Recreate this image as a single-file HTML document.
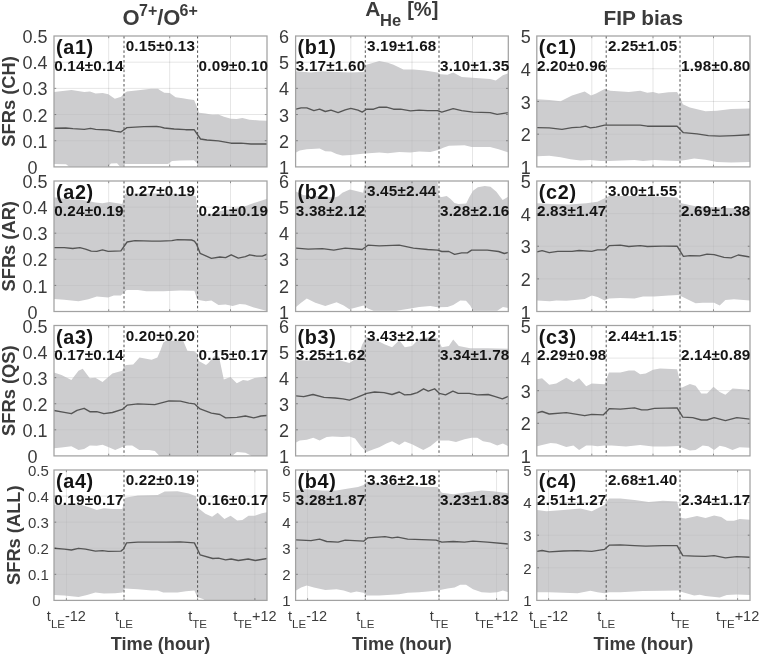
<!DOCTYPE html>
<html><head><meta charset="utf-8"><title>SFR figure</title>
<style>html,body{margin:0;padding:0;background:#fff;}svg{display:block;}</style></head><body>
<svg width="760" height="655" viewBox="0 0 760 655" font-family="Liberation Sans, Arial, Helvetica, sans-serif">
<rect width="760" height="655" fill="#fff"/>
<defs>
<clipPath id="k00"><rect x="54.00" y="36.00" width="213.00" height="130.90"/></clipPath>
<clipPath id="k01"><rect x="295.60" y="36.00" width="212.70" height="130.90"/></clipPath>
<clipPath id="k02"><rect x="536.80" y="36.00" width="213.20" height="130.90"/></clipPath>
<clipPath id="k10"><rect x="54.00" y="181.00" width="213.00" height="130.50"/></clipPath>
<clipPath id="k11"><rect x="295.60" y="181.00" width="212.70" height="130.50"/></clipPath>
<clipPath id="k12"><rect x="536.80" y="181.00" width="213.20" height="130.50"/></clipPath>
<clipPath id="k20"><rect x="54.00" y="325.50" width="213.00" height="130.40"/></clipPath>
<clipPath id="k21"><rect x="295.60" y="325.50" width="212.70" height="130.40"/></clipPath>
<clipPath id="k22"><rect x="536.80" y="325.50" width="213.20" height="130.40"/></clipPath>
<clipPath id="k30"><rect x="54.00" y="470.00" width="213.00" height="130.40"/></clipPath>
<clipPath id="k31"><rect x="295.60" y="470.00" width="212.70" height="130.40"/></clipPath>
<clipPath id="k32"><rect x="536.80" y="470.00" width="213.20" height="130.40"/></clipPath>
</defs>
<g clip-path="url(#k00)">
<path d="M108.70 36.00V166.90M169.70 36.00V166.90M230.50 36.00V166.90M54.00 140.72H267.00M54.00 114.54H267.00M54.00 88.36H267.00M54.00 62.18H267.00" stroke="#262626" stroke-opacity="0.08" stroke-width="1" fill="none"/>
<polygon points="53.0,92.1 71.5,90.0 84.3,92.1 90.0,91.4 95.6,93.5 102.7,93.1 108.4,94.2 114.8,98.8 121.2,96.8 124.0,93.5 126.9,91.6 138.3,90.2 151.0,88.8 158.0,88.8 160.0,90.2 164.3,92.8 169.7,93.1 175.6,97.3 182.7,98.2 188.4,99.2 194.1,99.9 197.0,107.0 199.0,112.7 205.5,113.4 212.6,114.8 218.3,114.5 224.0,116.7 231.0,118.7 236.7,119.1 242.4,118.1 249.5,119.8 259.5,120.5 268.0,120.8 268.0,168.0 198.0,168.0 196.8,163.0 194.0,160.3 180.0,160.5 172.0,161.0 168.0,164.0 125.0,164.0 124.0,166.5 120.0,166.5 117.0,163.2 111.0,163.5 108.0,166.5 69.0,166.5 66.0,164.3 53.0,164.0" fill="#cdcdcf"/>
<path d="M108.70 36.00V166.90M169.70 36.00V166.90M230.50 36.00V166.90M54.00 140.72H267.00M54.00 114.54H267.00M54.00 88.36H267.00M54.00 62.18H267.00" stroke="#262626" stroke-opacity="0.035" stroke-width="1" fill="none"/>
<polyline points="53.0,128.3 65.8,128.0 72.9,128.7 84.3,129.4 90.6,128.3 95.6,129.4 108.4,130.0 115.5,131.4 120.9,132.0 124.0,129.7 126.9,127.6 143.9,126.6 156.7,126.5 160.0,126.9 164.3,128.0 174.2,129.0 185.6,129.7 194.1,129.7 200.5,139.0 206.9,140.0 218.3,140.8 231.0,143.2 241.0,143.2 250.9,144.0 268.0,144.0" fill="none" stroke="#555555" stroke-width="1.35" stroke-linejoin="round"/>
<line x1="124.00" y1="36.00" x2="124.00" y2="166.90" stroke="#505050" stroke-width="1" stroke-dasharray="2.5 2.3"/>
<line x1="197.60" y1="36.00" x2="197.60" y2="166.90" stroke="#505050" stroke-width="1" stroke-dasharray="2.5 2.3"/>
</g>
<path d="M108.70 36.00v2.2M108.70 166.90v-2.2M169.70 36.00v2.2M169.70 166.90v-2.2M230.50 36.00v2.2M230.50 166.90v-2.2M54.00 140.72h2.2M267.00 140.72h-2.2M54.00 114.54h2.2M267.00 114.54h-2.2M54.00 88.36h2.2M267.00 88.36h-2.2M54.00 62.18h2.2M267.00 62.18h-2.2" stroke="#262626" stroke-width="0.8" fill="none" opacity="0.6"/>
<rect x="54.00" y="36.00" width="213.00" height="130.90" fill="none" stroke="#a2a2a2" stroke-width="1.25"/>
<text x="37.50" y="174.00" font-size="18" fill="#3b3b3b" text-anchor="end">0</text>
<text x="47.50" y="147.82" font-size="18" fill="#3b3b3b" text-anchor="end">0.1</text>
<text x="47.50" y="121.64" font-size="18" fill="#3b3b3b" text-anchor="end">0.2</text>
<text x="47.50" y="95.46" font-size="18" fill="#3b3b3b" text-anchor="end">0.3</text>
<text x="47.50" y="69.28" font-size="18" fill="#3b3b3b" text-anchor="end">0.4</text>
<text x="47.50" y="43.10" font-size="18" fill="#3b3b3b" text-anchor="end">0.5</text>
<text x="55.90" y="54.10" font-size="19.8" letter-spacing="0.7" font-weight="bold" fill="#141414">(a1)</text>
<text x="54.20" y="70.60" font-size="15.25" letter-spacing="0.2" font-weight="bold" fill="#141414">0.14±0.14</text>
<text x="125.70" y="51.40" font-size="15.25" letter-spacing="0.2" font-weight="bold" fill="#141414">0.15±0.13</text>
<text x="198.60" y="70.60" font-size="15.25" letter-spacing="0.2" font-weight="bold" fill="#141414">0.09±0.10</text>
<g clip-path="url(#k01)">
<path d="M350.80 36.00V166.90M412.00 36.00V166.90M472.50 36.00V166.90M295.60 140.72H508.30M295.60 114.54H508.30M295.60 88.36H508.30M295.60 62.18H508.30" stroke="#262626" stroke-opacity="0.08" stroke-width="1" fill="none"/>
<polygon points="296.0,71.3 311.0,72.5 322.4,71.3 336.6,71.9 350.8,72.5 363.6,71.9 365.5,66.0 366.5,64.8 379.3,61.1 387.8,62.8 393.5,64.8 403.4,69.6 413.4,69.6 424.7,70.5 437.5,72.5 440.4,74.2 447.5,74.7 453.2,72.5 461.7,77.0 475.9,78.1 490.1,79.0 495.8,80.4 502.9,75.3 508.5,73.3 508.5,152.6 498.6,149.2 490.1,146.9 471.6,146.9 464.5,145.2 448.9,145.8 443.2,147.8 439.0,149.8 430.4,152.1 419.1,151.5 410.5,152.6 399.2,152.1 387.8,153.2 379.3,152.6 365.1,153.5 350.8,154.9 342.3,155.5 336.6,154.0 331.0,151.5 325.3,151.2 319.6,148.6 306.8,149.2 299.7,150.6 296.0,152.6" fill="#cdcdcf"/>
<path d="M350.80 36.00V166.90M412.00 36.00V166.90M472.50 36.00V166.90M295.60 140.72H508.30M295.60 114.54H508.30M295.60 88.36H508.30M295.60 62.18H508.30" stroke="#262626" stroke-opacity="0.035" stroke-width="1" fill="none"/>
<polyline points="296.0,109.2 301.1,107.8 306.8,107.8 313.9,110.6 319.6,109.2 325.3,111.5 331.0,110.1 338.1,112.6 345.2,109.8 350.8,108.4 358.0,110.1 362.2,112.1 366.5,109.2 373.6,109.2 379.3,107.2 386.4,107.2 393.5,109.2 400.6,109.2 410.5,110.9 419.1,110.1 427.6,110.6 437.5,110.6 441.8,112.1 453.2,108.6 461.7,110.6 473.0,112.1 490.1,112.6 497.2,114.3 508.5,112.6" fill="none" stroke="#555555" stroke-width="1.35" stroke-linejoin="round"/>
<line x1="365.30" y1="36.00" x2="365.30" y2="166.90" stroke="#505050" stroke-width="1" stroke-dasharray="2.5 2.3"/>
<line x1="439.00" y1="36.00" x2="439.00" y2="166.90" stroke="#505050" stroke-width="1" stroke-dasharray="2.5 2.3"/>
</g>
<path d="M350.80 36.00v2.2M350.80 166.90v-2.2M412.00 36.00v2.2M412.00 166.90v-2.2M472.50 36.00v2.2M472.50 166.90v-2.2M295.60 140.72h2.2M508.30 140.72h-2.2M295.60 114.54h2.2M508.30 114.54h-2.2M295.60 88.36h2.2M508.30 88.36h-2.2M295.60 62.18h2.2M508.30 62.18h-2.2" stroke="#262626" stroke-width="0.8" fill="none" opacity="0.6"/>
<rect x="295.60" y="36.00" width="212.70" height="130.90" fill="none" stroke="#a2a2a2" stroke-width="1.25"/>
<text x="289.00" y="174.00" font-size="18" fill="#3b3b3b" text-anchor="end">1</text>
<text x="289.00" y="147.82" font-size="18" fill="#3b3b3b" text-anchor="end">2</text>
<text x="289.00" y="121.64" font-size="18" fill="#3b3b3b" text-anchor="end">3</text>
<text x="289.00" y="95.46" font-size="18" fill="#3b3b3b" text-anchor="end">4</text>
<text x="289.00" y="69.28" font-size="18" fill="#3b3b3b" text-anchor="end">5</text>
<text x="289.00" y="43.10" font-size="18" fill="#3b3b3b" text-anchor="end">6</text>
<text x="297.50" y="54.10" font-size="19.8" letter-spacing="0.7" font-weight="bold" fill="#141414">(b1)</text>
<text x="295.80" y="70.60" font-size="15.25" letter-spacing="0.2" font-weight="bold" fill="#141414">3.17±1.60</text>
<text x="367.00" y="51.40" font-size="15.25" letter-spacing="0.2" font-weight="bold" fill="#141414">3.19±1.68</text>
<text x="440.00" y="70.60" font-size="15.25" letter-spacing="0.2" font-weight="bold" fill="#141414">3.10±1.35</text>
<g clip-path="url(#k02)">
<path d="M591.80 36.00V166.90M653.00 36.00V166.90M713.50 36.00V166.90M536.80 134.18H750.00M536.80 101.45H750.00M536.80 68.72H750.00" stroke="#262626" stroke-opacity="0.08" stroke-width="1" fill="none"/>
<polygon points="537.0,99.3 549.2,99.9 560.6,101.3 572.0,95.6 584.7,91.4 591.0,95.6 596.1,93.6 604.6,89.1 610.3,90.8 628.8,91.9 640.2,90.8 647.3,92.8 653.0,91.9 658.6,93.6 668.6,92.2 677.1,91.9 680.0,97.1 682.8,104.2 689.9,107.6 705.5,111.3 716.9,110.7 731.1,109.0 750.0,108.4 750.0,162.0 731.1,162.6 716.9,162.0 705.5,159.7 694.2,158.6 685.6,160.0 678.5,161.1 662.9,160.6 654.4,160.0 643.0,161.1 634.5,160.0 608.9,161.1 600.4,161.1 590.4,160.0 580.5,160.6 570.5,159.2 560.6,157.2 549.2,155.7 537.0,156.3" fill="#cdcdcf"/>
<path d="M591.80 36.00V166.90M653.00 36.00V166.90M713.50 36.00V166.90M536.80 134.18H750.00M536.80 101.45H750.00M536.80 68.72H750.00" stroke="#262626" stroke-opacity="0.035" stroke-width="1" fill="none"/>
<polyline points="537.0,127.6 549.2,127.9 562.0,129.3 572.0,127.6 580.5,127.1 585.6,126.2 590.4,127.9 596.1,127.1 604.6,125.1 620.3,125.1 640.2,125.1 647.3,126.2 662.9,126.2 677.1,126.2 683.4,132.7 697.0,133.9 708.4,135.6 719.7,136.1 734.0,135.6 750.0,134.7" fill="none" stroke="#555555" stroke-width="1.35" stroke-linejoin="round"/>
<line x1="606.20" y1="36.00" x2="606.20" y2="166.90" stroke="#505050" stroke-width="1" stroke-dasharray="2.5 2.3"/>
<line x1="680.00" y1="36.00" x2="680.00" y2="166.90" stroke="#505050" stroke-width="1" stroke-dasharray="2.5 2.3"/>
</g>
<path d="M591.80 36.00v2.2M591.80 166.90v-2.2M653.00 36.00v2.2M653.00 166.90v-2.2M713.50 36.00v2.2M713.50 166.90v-2.2M536.80 134.18h2.2M750.00 134.18h-2.2M536.80 101.45h2.2M750.00 101.45h-2.2M536.80 68.72h2.2M750.00 68.72h-2.2" stroke="#262626" stroke-width="0.8" fill="none" opacity="0.6"/>
<rect x="536.80" y="36.00" width="213.20" height="130.90" fill="none" stroke="#a2a2a2" stroke-width="1.25"/>
<text x="530.70" y="174.00" font-size="18" fill="#3b3b3b" text-anchor="end">1</text>
<text x="530.70" y="141.28" font-size="18" fill="#3b3b3b" text-anchor="end">2</text>
<text x="530.70" y="108.55" font-size="18" fill="#3b3b3b" text-anchor="end">3</text>
<text x="530.70" y="75.82" font-size="18" fill="#3b3b3b" text-anchor="end">4</text>
<text x="530.70" y="43.10" font-size="18" fill="#3b3b3b" text-anchor="end">5</text>
<text x="538.70" y="54.10" font-size="19.8" letter-spacing="0.7" font-weight="bold" fill="#141414">(c1)</text>
<text x="537.00" y="70.60" font-size="15.25" letter-spacing="0.2" font-weight="bold" fill="#141414">2.20±0.96</text>
<text x="607.90" y="51.40" font-size="15.25" letter-spacing="0.2" font-weight="bold" fill="#141414">2.25±1.05</text>
<text x="681.00" y="70.60" font-size="15.25" letter-spacing="0.2" font-weight="bold" fill="#141414">1.98±0.80</text>
<text transform="translate(14.80 101.45) rotate(-90)" font-size="18.3" font-weight="bold" fill="#3b3b3b" text-anchor="middle">SFRs (CH)</text>
<g clip-path="url(#k10)">
<path d="M108.70 181.00V311.50M169.70 181.00V311.50M230.50 181.00V311.50M54.00 285.40H267.00M54.00 259.30H267.00M54.00 233.20H267.00M54.00 207.10H267.00" stroke="#262626" stroke-opacity="0.08" stroke-width="1" fill="none"/>
<polygon points="53.0,197.0 67.1,199.2 81.3,199.8 95.4,202.6 102.5,203.2 109.6,202.1 122.3,204.0 124.2,197.0 125.1,194.1 137.9,193.6 166.2,193.6 190.0,194.5 196.0,196.5 197.6,214.0 210.5,214.5 220.8,210.8 233.0,208.8 246.5,205.7 251.0,204.0 259.5,201.2 265.7,199.2 268.0,198.5 268.0,311.5 265.2,310.6 253.8,307.4 245.4,304.6 239.7,304.0 232.6,306.0 225.6,304.6 218.5,304.9 211.4,300.4 205.8,301.2 197.3,299.8 194.4,290.7 180.3,290.5 163.3,291.3 146.4,291.3 137.9,289.9 126.6,289.9 123.7,292.7 120.9,295.6 113.8,295.6 108.2,297.5 96.8,296.4 88.4,299.2 78.5,301.2 64.3,299.8 53.0,299.0" fill="#cdcdcf"/>
<path d="M108.70 181.00V311.50M169.70 181.00V311.50M230.50 181.00V311.50M54.00 285.40H267.00M54.00 259.30H267.00M54.00 233.20H267.00M54.00 207.10H267.00" stroke="#262626" stroke-opacity="0.035" stroke-width="1" fill="none"/>
<polyline points="53.0,247.6 64.3,247.6 72.8,248.5 79.9,247.6 85.5,249.1 91.2,251.1 96.8,251.3 102.5,249.9 108.2,251.3 120.9,250.8 127.1,242.0 135.0,240.6 152.0,241.1 160.5,241.1 171.8,240.6 177.5,239.7 191.6,240.0 194.4,241.1 196.5,244.0 200.1,253.3 211.4,258.4 219.9,257.0 225.6,257.6 231.2,254.8 238.3,258.1 245.4,256.7 249.6,254.8 256.7,256.1 262.3,256.1 268.0,253.9" fill="none" stroke="#555555" stroke-width="1.35" stroke-linejoin="round"/>
<line x1="124.00" y1="181.00" x2="124.00" y2="311.50" stroke="#505050" stroke-width="1" stroke-dasharray="2.5 2.3"/>
<line x1="197.60" y1="181.00" x2="197.60" y2="311.50" stroke="#505050" stroke-width="1" stroke-dasharray="2.5 2.3"/>
</g>
<path d="M108.70 181.00v2.2M108.70 311.50v-2.2M169.70 181.00v2.2M169.70 311.50v-2.2M230.50 181.00v2.2M230.50 311.50v-2.2M54.00 285.40h2.2M267.00 285.40h-2.2M54.00 259.30h2.2M267.00 259.30h-2.2M54.00 233.20h2.2M267.00 233.20h-2.2M54.00 207.10h2.2M267.00 207.10h-2.2" stroke="#262626" stroke-width="0.8" fill="none" opacity="0.6"/>
<rect x="54.00" y="181.00" width="213.00" height="130.50" fill="none" stroke="#a2a2a2" stroke-width="1.25"/>
<text x="37.50" y="318.60" font-size="18" fill="#3b3b3b" text-anchor="end">0</text>
<text x="47.50" y="292.50" font-size="18" fill="#3b3b3b" text-anchor="end">0.1</text>
<text x="47.50" y="266.40" font-size="18" fill="#3b3b3b" text-anchor="end">0.2</text>
<text x="47.50" y="240.30" font-size="18" fill="#3b3b3b" text-anchor="end">0.3</text>
<text x="47.50" y="214.20" font-size="18" fill="#3b3b3b" text-anchor="end">0.4</text>
<text x="47.50" y="188.10" font-size="18" fill="#3b3b3b" text-anchor="end">0.5</text>
<text x="55.90" y="199.10" font-size="19.8" letter-spacing="0.7" font-weight="bold" fill="#141414">(a2)</text>
<text x="54.20" y="215.60" font-size="15.25" letter-spacing="0.2" font-weight="bold" fill="#141414">0.24±0.19</text>
<text x="125.70" y="196.40" font-size="15.25" letter-spacing="0.2" font-weight="bold" fill="#141414">0.27±0.19</text>
<text x="198.60" y="215.60" font-size="15.25" letter-spacing="0.2" font-weight="bold" fill="#141414">0.21±0.19</text>
<g clip-path="url(#k11)">
<path d="M350.80 181.00V311.50M412.00 181.00V311.50M472.50 181.00V311.50M295.60 285.40H508.30M295.60 259.30H508.30M295.60 233.20H508.30M295.60 207.10H508.30" stroke="#262626" stroke-opacity="0.08" stroke-width="1" fill="none"/>
<polygon points="296.0,191.5 303.0,195.0 311.0,196.0 322.0,196.5 334.5,197.5 338.4,196.3 342.4,192.8 349.8,189.4 354.2,190.4 363.1,192.8 365.4,181.0 437.5,181.0 438.9,196.6 441.8,197.0 446.7,196.1 450.6,199.0 454.5,202.9 458.4,204.0 466.2,203.4 469.1,197.5 473.0,190.7 477.9,187.3 484.7,186.0 490.5,186.8 496.4,191.7 500.3,197.0 502.7,200.0 506.1,198.0 508.5,196.6 508.5,307.9 502.9,307.0 497.2,310.7 473.0,310.7 470.2,305.6 466.0,300.7 460.3,300.5 453.2,305.0 447.5,307.0 437.5,307.3 430.4,306.1 419.1,307.0 410.5,308.4 396.3,310.7 373.6,310.7 367.9,308.4 363.6,305.6 349.4,309.3 343.7,305.6 336.6,302.2 325.3,306.1 315.3,302.7 306.8,298.5 301.1,302.7 296.0,307.0" fill="#cdcdcf"/>
<path d="M350.80 181.00V311.50M412.00 181.00V311.50M472.50 181.00V311.50M295.60 285.40H508.30M295.60 259.30H508.30M295.60 233.20H508.30M295.60 207.10H508.30" stroke="#262626" stroke-opacity="0.035" stroke-width="1" fill="none"/>
<polyline points="296.0,248.1 308.2,249.2 322.4,248.6 333.8,250.1 345.2,248.1 362.2,249.5 367.9,245.2 379.3,245.8 399.2,245.2 413.4,248.1 427.6,249.5 437.5,250.1 441.8,251.5 448.9,251.5 454.6,254.3 461.7,252.9 467.4,252.9 471.6,250.1 487.3,250.1 498.6,251.5 504.3,253.5 508.5,252.3" fill="none" stroke="#555555" stroke-width="1.35" stroke-linejoin="round"/>
<line x1="365.30" y1="181.00" x2="365.30" y2="311.50" stroke="#505050" stroke-width="1" stroke-dasharray="2.5 2.3"/>
<line x1="439.00" y1="181.00" x2="439.00" y2="311.50" stroke="#505050" stroke-width="1" stroke-dasharray="2.5 2.3"/>
</g>
<path d="M350.80 181.00v2.2M350.80 311.50v-2.2M412.00 181.00v2.2M412.00 311.50v-2.2M472.50 181.00v2.2M472.50 311.50v-2.2M295.60 285.40h2.2M508.30 285.40h-2.2M295.60 259.30h2.2M508.30 259.30h-2.2M295.60 233.20h2.2M508.30 233.20h-2.2M295.60 207.10h2.2M508.30 207.10h-2.2" stroke="#262626" stroke-width="0.8" fill="none" opacity="0.6"/>
<rect x="295.60" y="181.00" width="212.70" height="130.50" fill="none" stroke="#a2a2a2" stroke-width="1.25"/>
<text x="289.00" y="318.60" font-size="18" fill="#3b3b3b" text-anchor="end">1</text>
<text x="289.00" y="292.50" font-size="18" fill="#3b3b3b" text-anchor="end">2</text>
<text x="289.00" y="266.40" font-size="18" fill="#3b3b3b" text-anchor="end">3</text>
<text x="289.00" y="240.30" font-size="18" fill="#3b3b3b" text-anchor="end">4</text>
<text x="289.00" y="214.20" font-size="18" fill="#3b3b3b" text-anchor="end">5</text>
<text x="289.00" y="188.10" font-size="18" fill="#3b3b3b" text-anchor="end">6</text>
<text x="297.50" y="199.10" font-size="19.8" letter-spacing="0.7" font-weight="bold" fill="#141414">(b2)</text>
<text x="295.80" y="215.60" font-size="15.25" letter-spacing="0.2" font-weight="bold" fill="#141414">3.38±2.12</text>
<text x="367.00" y="196.40" font-size="15.25" letter-spacing="0.2" font-weight="bold" fill="#141414">3.45±2.44</text>
<text x="440.00" y="215.60" font-size="15.25" letter-spacing="0.2" font-weight="bold" fill="#141414">3.28±2.16</text>
<g clip-path="url(#k12)">
<path d="M591.80 181.00V311.50M653.00 181.00V311.50M713.50 181.00V311.50M536.80 278.88H750.00M536.80 246.25H750.00M536.80 213.62H750.00" stroke="#262626" stroke-opacity="0.08" stroke-width="1" fill="none"/>
<polygon points="537.0,203.2 552.0,204.0 569.1,204.6 586.2,203.2 597.5,201.7 604.6,198.3 608.9,196.1 648.7,196.1 677.1,197.5 681.4,203.2 694.2,206.0 716.9,207.4 750.0,208.8 750.0,300.5 734.0,299.3 725.4,299.9 719.7,305.6 714.1,302.7 702.7,302.7 695.6,303.3 689.9,300.5 682.8,297.1 678.5,295.1 668.6,295.6 654.4,296.5 643.0,296.5 634.5,298.5 620.3,297.9 608.9,298.5 604.6,300.5 597.5,297.1 591.8,295.6 584.7,299.0 574.8,299.9 566.3,300.7 556.3,300.5 549.8,301.3 537.0,300.5" fill="#cdcdcf"/>
<path d="M591.80 181.00V311.50M653.00 181.00V311.50M713.50 181.00V311.50M536.80 278.88H750.00M536.80 246.25H750.00M536.80 213.62H750.00" stroke="#262626" stroke-opacity="0.035" stroke-width="1" fill="none"/>
<polyline points="537.0,251.9 542.1,250.7 549.2,252.7 557.7,251.3 572.0,251.3 579.1,250.5 591.8,251.3 597.5,249.9 604.6,249.9 609.5,245.6 620.3,245.1 628.8,246.5 640.2,245.6 647.3,246.5 662.9,246.2 677.1,246.2 683.4,256.4 689.9,255.6 699.8,255.9 707.0,254.2 714.1,254.7 724.0,257.3 731.1,257.9 738.2,255.0 750.0,257.0" fill="none" stroke="#555555" stroke-width="1.35" stroke-linejoin="round"/>
<line x1="606.20" y1="181.00" x2="606.20" y2="311.50" stroke="#505050" stroke-width="1" stroke-dasharray="2.5 2.3"/>
<line x1="680.00" y1="181.00" x2="680.00" y2="311.50" stroke="#505050" stroke-width="1" stroke-dasharray="2.5 2.3"/>
</g>
<path d="M591.80 181.00v2.2M591.80 311.50v-2.2M653.00 181.00v2.2M653.00 311.50v-2.2M713.50 181.00v2.2M713.50 311.50v-2.2M536.80 278.88h2.2M750.00 278.88h-2.2M536.80 246.25h2.2M750.00 246.25h-2.2M536.80 213.62h2.2M750.00 213.62h-2.2" stroke="#262626" stroke-width="0.8" fill="none" opacity="0.6"/>
<rect x="536.80" y="181.00" width="213.20" height="130.50" fill="none" stroke="#a2a2a2" stroke-width="1.25"/>
<text x="530.70" y="318.60" font-size="18" fill="#3b3b3b" text-anchor="end">1</text>
<text x="530.70" y="285.98" font-size="18" fill="#3b3b3b" text-anchor="end">2</text>
<text x="530.70" y="253.35" font-size="18" fill="#3b3b3b" text-anchor="end">3</text>
<text x="530.70" y="220.72" font-size="18" fill="#3b3b3b" text-anchor="end">4</text>
<text x="530.70" y="188.10" font-size="18" fill="#3b3b3b" text-anchor="end">5</text>
<text x="538.70" y="199.10" font-size="19.8" letter-spacing="0.7" font-weight="bold" fill="#141414">(c2)</text>
<text x="537.00" y="215.60" font-size="15.25" letter-spacing="0.2" font-weight="bold" fill="#141414">2.83±1.47</text>
<text x="607.90" y="196.40" font-size="15.25" letter-spacing="0.2" font-weight="bold" fill="#141414">3.00±1.55</text>
<text x="681.00" y="215.60" font-size="15.25" letter-spacing="0.2" font-weight="bold" fill="#141414">2.69±1.38</text>
<text transform="translate(14.80 246.25) rotate(-90)" font-size="18.3" font-weight="bold" fill="#3b3b3b" text-anchor="middle">SFRs (AR)</text>
<g clip-path="url(#k20)">
<path d="M108.70 325.50V455.90M169.70 325.50V455.90M230.50 325.50V455.90M54.00 429.82H267.00M54.00 403.74H267.00M54.00 377.66H267.00M54.00 351.58H267.00" stroke="#262626" stroke-opacity="0.08" stroke-width="1" fill="none"/>
<polygon points="53.0,372.1 61.5,374.9 71.4,380.0 78.5,370.7 82.7,368.7 89.8,378.3 95.4,377.7 102.5,382.0 112.4,373.5 122.3,370.7 124.0,366.0 126.3,365.0 133.2,364.4 139.5,357.6 151.6,359.7 157.4,357.6 160.5,350.2 163.2,342.8 165.8,340.7 183.2,340.7 187.4,350.7 194.2,351.3 196.9,353.4 198.8,361.1 206.0,365.0 208.4,363.0 214.2,356.3 219.0,356.8 223.8,379.4 230.5,377.0 236.8,383.2 243.0,379.9 247.8,380.8 254.6,377.9 262.2,377.0 268.0,376.5 268.0,457.0 252.0,457.0 251.0,455.5 245.4,452.7 236.9,451.9 232.6,455.5 231.0,457.0 160.0,457.0 159.1,455.5 154.8,451.0 149.2,449.9 139.3,449.9 132.2,445.4 126.6,445.4 122.3,447.1 115.2,449.9 108.2,447.1 102.5,444.8 96.8,445.7 89.8,445.4 84.1,449.0 78.5,449.9 71.4,446.2 61.5,447.6 53.0,448.2" fill="#cdcdcf"/>
<path d="M108.70 325.50V455.90M169.70 325.50V455.90M230.50 325.50V455.90M54.00 429.82H267.00M54.00 403.74H267.00M54.00 377.66H267.00M54.00 351.58H267.00" stroke="#262626" stroke-opacity="0.035" stroke-width="1" fill="none"/>
<polyline points="53.0,410.3 64.3,412.3 71.4,413.7 77.0,410.3 84.1,408.3 89.8,411.7 96.8,411.7 103.9,413.7 112.4,412.5 122.3,409.4 127.1,405.2 137.9,403.8 154.8,404.6 169.0,400.9 180.3,401.2 188.8,403.2 194.4,403.8 200.1,408.9 211.4,413.1 219.9,414.5 225.6,417.9 236.9,417.4 245.4,416.0 253.8,417.9 260.9,416.0 268.0,415.4" fill="none" stroke="#555555" stroke-width="1.35" stroke-linejoin="round"/>
<line x1="124.00" y1="325.50" x2="124.00" y2="455.90" stroke="#505050" stroke-width="1" stroke-dasharray="2.5 2.3"/>
<line x1="197.60" y1="325.50" x2="197.60" y2="455.90" stroke="#505050" stroke-width="1" stroke-dasharray="2.5 2.3"/>
</g>
<path d="M108.70 325.50v2.2M108.70 455.90v-2.2M169.70 325.50v2.2M169.70 455.90v-2.2M230.50 325.50v2.2M230.50 455.90v-2.2M54.00 429.82h2.2M267.00 429.82h-2.2M54.00 403.74h2.2M267.00 403.74h-2.2M54.00 377.66h2.2M267.00 377.66h-2.2M54.00 351.58h2.2M267.00 351.58h-2.2" stroke="#262626" stroke-width="0.8" fill="none" opacity="0.6"/>
<rect x="54.00" y="325.50" width="213.00" height="130.40" fill="none" stroke="#a2a2a2" stroke-width="1.25"/>
<text x="37.50" y="463.00" font-size="18" fill="#3b3b3b" text-anchor="end">0</text>
<text x="47.50" y="436.92" font-size="18" fill="#3b3b3b" text-anchor="end">0.1</text>
<text x="47.50" y="410.84" font-size="18" fill="#3b3b3b" text-anchor="end">0.2</text>
<text x="47.50" y="384.76" font-size="18" fill="#3b3b3b" text-anchor="end">0.3</text>
<text x="47.50" y="358.68" font-size="18" fill="#3b3b3b" text-anchor="end">0.4</text>
<text x="47.50" y="332.60" font-size="18" fill="#3b3b3b" text-anchor="end">0.5</text>
<text x="55.90" y="343.60" font-size="19.8" letter-spacing="0.7" font-weight="bold" fill="#141414">(a3)</text>
<text x="54.20" y="360.10" font-size="15.25" letter-spacing="0.2" font-weight="bold" fill="#141414">0.17±0.14</text>
<text x="125.70" y="340.90" font-size="15.25" letter-spacing="0.2" font-weight="bold" fill="#141414">0.20±0.20</text>
<text x="198.60" y="360.10" font-size="15.25" letter-spacing="0.2" font-weight="bold" fill="#141414">0.15±0.17</text>
<g clip-path="url(#k21)">
<path d="M350.80 325.50V455.90M412.00 325.50V455.90M472.50 325.50V455.90M295.60 429.82H508.30M295.60 403.74H508.30M295.60 377.66H508.30M295.60 351.58H508.30" stroke="#262626" stroke-opacity="0.08" stroke-width="1" fill="none"/>
<polygon points="296.0,360.1 308.2,360.4 322.4,358.1 336.6,359.5 349.4,363.0 358.0,357.3 362.2,344.5 366.5,336.8 376.4,340.2 385.0,344.5 392.1,347.3 399.2,340.2 404.8,347.3 412.0,345.9 419.1,338.8 427.6,337.4 437.5,338.0 441.8,347.3 448.9,345.9 453.2,339.6 458.8,345.9 470.2,348.2 487.3,348.2 508.5,348.7 508.5,446.3 502.9,443.5 497.2,445.5 490.1,442.6 483.0,441.2 477.3,437.8 471.6,437.8 464.5,439.2 456.0,442.1 448.9,440.6 437.5,440.6 430.4,446.3 423.3,450.0 412.0,444.3 404.8,441.5 399.2,444.9 392.1,441.2 386.4,443.5 379.3,447.2 373.6,449.2 366.5,452.0 360.8,446.3 355.1,438.6 349.4,436.4 342.3,436.9 332.4,436.4 326.7,436.9 319.6,440.6 313.3,437.8 306.8,439.8 299.7,440.6 296.0,442.6" fill="#cdcdcf"/>
<path d="M350.80 325.50V455.90M412.00 325.50V455.90M472.50 325.50V455.90M295.60 429.82H508.30M295.60 403.74H508.30M295.60 377.66H508.30M295.60 351.58H508.30" stroke="#262626" stroke-opacity="0.035" stroke-width="1" fill="none"/>
<polyline points="296.0,395.8 303.7,396.7 313.0,394.5 324.0,397.4 335.0,398.0 343.0,398.9 349.4,400.2 357.0,397.4 366.8,393.3 374.6,392.0 384.0,392.6 392.0,394.5 399.3,392.0 404.6,394.8 411.0,394.5 417.3,392.6 423.6,388.8 428.3,391.1 434.6,388.8 439.3,393.3 445.6,394.8 452.9,391.1 458.2,393.3 469.3,393.3 477.2,394.8 488.2,394.5 494.5,396.4 502.4,398.9 508.3,396.4" fill="none" stroke="#555555" stroke-width="1.35" stroke-linejoin="round"/>
<line x1="365.30" y1="325.50" x2="365.30" y2="455.90" stroke="#505050" stroke-width="1" stroke-dasharray="2.5 2.3"/>
<line x1="439.00" y1="325.50" x2="439.00" y2="455.90" stroke="#505050" stroke-width="1" stroke-dasharray="2.5 2.3"/>
</g>
<path d="M350.80 325.50v2.2M350.80 455.90v-2.2M412.00 325.50v2.2M412.00 455.90v-2.2M472.50 325.50v2.2M472.50 455.90v-2.2M295.60 429.82h2.2M508.30 429.82h-2.2M295.60 403.74h2.2M508.30 403.74h-2.2M295.60 377.66h2.2M508.30 377.66h-2.2M295.60 351.58h2.2M508.30 351.58h-2.2" stroke="#262626" stroke-width="0.8" fill="none" opacity="0.6"/>
<rect x="295.60" y="325.50" width="212.70" height="130.40" fill="none" stroke="#a2a2a2" stroke-width="1.25"/>
<text x="289.00" y="463.00" font-size="18" fill="#3b3b3b" text-anchor="end">1</text>
<text x="289.00" y="436.92" font-size="18" fill="#3b3b3b" text-anchor="end">2</text>
<text x="289.00" y="410.84" font-size="18" fill="#3b3b3b" text-anchor="end">3</text>
<text x="289.00" y="384.76" font-size="18" fill="#3b3b3b" text-anchor="end">4</text>
<text x="289.00" y="358.68" font-size="18" fill="#3b3b3b" text-anchor="end">5</text>
<text x="289.00" y="332.60" font-size="18" fill="#3b3b3b" text-anchor="end">6</text>
<text x="297.50" y="343.60" font-size="19.8" letter-spacing="0.7" font-weight="bold" fill="#141414">(b3)</text>
<text x="295.80" y="360.10" font-size="15.25" letter-spacing="0.2" font-weight="bold" fill="#141414">3.25±1.62</text>
<text x="367.00" y="340.90" font-size="15.25" letter-spacing="0.2" font-weight="bold" fill="#141414">3.43±2.12</text>
<text x="440.00" y="360.10" font-size="15.25" letter-spacing="0.2" font-weight="bold" fill="#141414">3.34±1.78</text>
<g clip-path="url(#k22)">
<path d="M591.80 325.50V455.90M653.00 325.50V455.90M713.50 325.50V455.90M536.80 423.30H750.00M536.80 390.70H750.00M536.80 358.10H750.00" stroke="#262626" stroke-opacity="0.08" stroke-width="1" fill="none"/>
<polygon points="537.0,379.2 542.1,378.3 549.2,384.8 556.3,383.4 566.3,377.7 573.4,382.0 579.1,378.3 586.2,386.3 591.8,383.4 604.6,384.3 608.9,372.6 620.3,372.6 628.8,370.6 634.5,370.6 640.2,374.3 645.8,373.5 653.0,369.8 660.0,368.6 677.1,369.2 681.4,387.7 689.9,384.0 695.6,385.7 701.3,393.4 707.0,393.4 713.5,386.8 719.7,391.9 725.4,394.8 732.5,388.5 750.0,389.7 750.0,447.7 739.6,447.2 732.5,450.0 725.4,446.9 719.7,445.7 714.1,450.0 708.4,446.3 702.7,445.5 695.6,450.0 689.9,450.6 682.8,447.7 678.5,446.0 665.7,446.6 653.0,446.6 640.2,444.9 626.0,446.6 611.7,445.5 604.6,445.5 597.5,446.3 591.8,445.5 586.2,445.5 579.1,450.0 573.4,445.5 566.3,446.9 556.3,443.5 550.6,442.9 542.1,444.9 537.0,446.3" fill="#cdcdcf"/>
<path d="M591.80 325.50V455.90M653.00 325.50V455.90M713.50 325.50V455.90M536.80 423.30H750.00M536.80 390.70H750.00M536.80 358.10H750.00" stroke="#262626" stroke-opacity="0.035" stroke-width="1" fill="none"/>
<polyline points="537.0,412.9 542.1,411.5 549.2,414.0 566.3,412.6 584.7,415.7 591.8,414.3 603.2,414.9 609.5,408.6 620.3,409.2 634.5,407.8 641.6,409.8 647.3,409.8 654.4,408.4 677.1,407.8 682.8,417.2 692.7,417.7 701.3,420.0 707.0,420.0 714.1,417.7 725.4,420.6 736.8,417.7 750.0,419.2" fill="none" stroke="#555555" stroke-width="1.35" stroke-linejoin="round"/>
<line x1="606.20" y1="325.50" x2="606.20" y2="455.90" stroke="#505050" stroke-width="1" stroke-dasharray="2.5 2.3"/>
<line x1="680.00" y1="325.50" x2="680.00" y2="455.90" stroke="#505050" stroke-width="1" stroke-dasharray="2.5 2.3"/>
</g>
<path d="M591.80 325.50v2.2M591.80 455.90v-2.2M653.00 325.50v2.2M653.00 455.90v-2.2M713.50 325.50v2.2M713.50 455.90v-2.2M536.80 423.30h2.2M750.00 423.30h-2.2M536.80 390.70h2.2M750.00 390.70h-2.2M536.80 358.10h2.2M750.00 358.10h-2.2" stroke="#262626" stroke-width="0.8" fill="none" opacity="0.6"/>
<rect x="536.80" y="325.50" width="213.20" height="130.40" fill="none" stroke="#a2a2a2" stroke-width="1.25"/>
<text x="530.70" y="463.00" font-size="18" fill="#3b3b3b" text-anchor="end">1</text>
<text x="530.70" y="430.40" font-size="18" fill="#3b3b3b" text-anchor="end">2</text>
<text x="530.70" y="397.80" font-size="18" fill="#3b3b3b" text-anchor="end">3</text>
<text x="530.70" y="365.20" font-size="18" fill="#3b3b3b" text-anchor="end">4</text>
<text x="530.70" y="332.60" font-size="18" fill="#3b3b3b" text-anchor="end">5</text>
<text x="538.70" y="343.60" font-size="19.8" letter-spacing="0.7" font-weight="bold" fill="#141414">(c3)</text>
<text x="537.00" y="360.10" font-size="15.25" letter-spacing="0.2" font-weight="bold" fill="#141414">2.29±0.98</text>
<text x="607.90" y="340.90" font-size="15.25" letter-spacing="0.2" font-weight="bold" fill="#141414">2.44±1.15</text>
<text x="681.00" y="360.10" font-size="15.25" letter-spacing="0.2" font-weight="bold" fill="#141414">2.14±0.89</text>
<text transform="translate(14.80 390.70) rotate(-90)" font-size="18.3" font-weight="bold" fill="#3b3b3b" text-anchor="middle">SFRs (QS)</text>
<g clip-path="url(#k30)">
<path d="M66.40 470.00V600.40M254.90 470.00V600.40M54.00 574.32H267.00M54.00 548.24H267.00M54.00 522.16H267.00M54.00 496.08H267.00" stroke="#262626" stroke-opacity="0.08" stroke-width="1" fill="none"/>
<polygon points="53.0,504.8 70.0,504.2 81.3,504.8 89.8,507.6 96.8,509.9 103.9,508.2 112.4,509.0 122.3,509.0 125.1,497.7 137.9,495.4 157.7,494.9 164.7,491.5 177.5,491.2 188.8,493.5 195.9,496.3 198.7,508.5 205.4,513.7 212.1,516.8 217.7,512.7 224.4,518.9 230.6,515.8 237.2,520.4 242.4,519.9 248.5,515.8 254.7,515.8 261.9,513.2 268.0,512.0 268.0,601.0 206.0,601.0 203.0,599.1 197.3,596.9 194.4,590.4 186.0,591.2 177.5,592.6 163.3,592.6 157.7,590.4 152.0,590.4 137.9,589.2 125.1,588.4 122.3,592.6 115.2,593.2 103.9,593.5 95.4,592.6 87.0,594.9 78.5,596.9 64.3,595.5 53.0,594.9" fill="#cdcdcf"/>
<path d="M66.40 470.00V600.40M254.90 470.00V600.40M54.00 574.32H267.00M54.00 548.24H267.00M54.00 522.16H267.00M54.00 496.08H267.00" stroke="#262626" stroke-opacity="0.035" stroke-width="1" fill="none"/>
<polyline points="53.0,548.2 64.3,549.1 71.4,550.0 78.5,548.3 85.5,549.1 95.4,551.1 102.5,550.6 108.2,551.4 120.9,551.1 123.5,549.0 126.6,542.9 137.9,542.1 166.2,542.1 180.3,541.8 194.4,542.9 200.1,554.8 212.8,558.5 218.5,558.2 225.6,559.9 231.2,559.0 238.3,560.5 248.2,559.0 255.3,560.5 268.0,558.3" fill="none" stroke="#555555" stroke-width="1.35" stroke-linejoin="round"/>
<line x1="124.00" y1="470.00" x2="124.00" y2="600.40" stroke="#505050" stroke-width="1" stroke-dasharray="2.5 2.3"/>
<line x1="197.60" y1="470.00" x2="197.60" y2="600.40" stroke="#505050" stroke-width="1" stroke-dasharray="2.5 2.3"/>
</g>
<path d="M66.40 470.00v2.2M66.40 600.40v-2.2M254.90 470.00v2.2M254.90 600.40v-2.2M124.00 470.00v2.2M124.00 600.40v-2.2M197.60 470.00v2.2M197.60 600.40v-2.2M54.00 574.32h2.2M267.00 574.32h-2.2M54.00 548.24h2.2M267.00 548.24h-2.2M54.00 522.16h2.2M267.00 522.16h-2.2M54.00 496.08h2.2M267.00 496.08h-2.2" stroke="#262626" stroke-width="0.8" fill="none" opacity="0.6"/>
<rect x="54.00" y="470.00" width="213.00" height="130.40" fill="none" stroke="#a2a2a2" stroke-width="1.25"/>
<text x="40.60" y="606.10" font-size="15" fill="#3b3b3b" text-anchor="end">0</text>
<text x="48.90" y="580.02" font-size="15" fill="#3b3b3b" text-anchor="end">0.1</text>
<text x="48.90" y="553.94" font-size="15" fill="#3b3b3b" text-anchor="end">0.2</text>
<text x="48.90" y="527.86" font-size="15" fill="#3b3b3b" text-anchor="end">0.3</text>
<text x="48.90" y="501.78" font-size="15" fill="#3b3b3b" text-anchor="end">0.4</text>
<text x="48.90" y="475.70" font-size="15" fill="#3b3b3b" text-anchor="end">0.5</text>
<text x="55.90" y="488.10" font-size="19.8" letter-spacing="0.7" font-weight="bold" fill="#141414">(a4)</text>
<text x="54.20" y="504.60" font-size="15.25" letter-spacing="0.2" font-weight="bold" fill="#141414">0.19±0.17</text>
<text x="125.70" y="485.40" font-size="15.25" letter-spacing="0.2" font-weight="bold" fill="#141414">0.22±0.19</text>
<text x="198.60" y="504.60" font-size="15.25" letter-spacing="0.2" font-weight="bold" fill="#141414">0.16±0.17</text>
<g clip-path="url(#k31)">
<path d="M307.60 470.00V600.40M496.60 470.00V600.40M295.60 574.32H508.30M295.60 548.24H508.30M295.60 522.16H508.30M295.60 496.08H508.30" stroke="#262626" stroke-opacity="0.08" stroke-width="1" fill="none"/>
<polygon points="296.0,489.9 305.4,489.3 322.4,490.5 336.6,490.5 348.4,488.5 358.0,487.0 363.6,485.0 366.5,481.4 379.3,483.6 407.7,485.6 421.9,487.1 437.5,487.1 441.8,492.7 453.2,494.2 464.5,492.7 481.6,490.5 493.0,491.3 508.5,493.3 508.5,592.2 502.9,590.5 497.2,592.2 490.1,592.7 481.6,592.2 473.0,589.3 466.0,584.8 460.3,584.8 454.6,587.6 447.5,588.5 437.5,590.5 427.6,591.6 419.1,592.2 407.7,592.7 399.2,594.2 379.3,595.6 366.5,595.6 363.6,592.7 356.5,591.6 350.8,592.7 343.7,590.5 336.6,589.3 325.3,589.9 313.9,587.6 306.8,585.6 301.1,587.6 296.0,590.5" fill="#cdcdcf"/>
<path d="M307.60 470.00V600.40M496.60 470.00V600.40M295.60 574.32H508.30M295.60 548.24H508.30M295.60 522.16H508.30M295.60 496.08H508.30" stroke="#262626" stroke-opacity="0.035" stroke-width="1" fill="none"/>
<polyline points="296.0,539.8 311.0,540.6 319.6,539.2 326.7,541.5 338.1,542.1 345.2,540.1 363.6,541.2 367.9,537.8 385.0,536.6 392.1,537.8 397.7,537.2 407.7,539.2 436.1,540.1 441.8,542.1 453.2,541.5 464.5,542.1 473.0,541.2 487.3,542.1 508.5,544.0" fill="none" stroke="#555555" stroke-width="1.35" stroke-linejoin="round"/>
<line x1="365.30" y1="470.00" x2="365.30" y2="600.40" stroke="#505050" stroke-width="1" stroke-dasharray="2.5 2.3"/>
<line x1="439.00" y1="470.00" x2="439.00" y2="600.40" stroke="#505050" stroke-width="1" stroke-dasharray="2.5 2.3"/>
</g>
<path d="M307.60 470.00v2.2M307.60 600.40v-2.2M496.60 470.00v2.2M496.60 600.40v-2.2M365.30 470.00v2.2M365.30 600.40v-2.2M439.00 470.00v2.2M439.00 600.40v-2.2M295.60 574.32h2.2M508.30 574.32h-2.2M295.60 548.24h2.2M508.30 548.24h-2.2M295.60 522.16h2.2M508.30 522.16h-2.2M295.60 496.08h2.2M508.30 496.08h-2.2" stroke="#262626" stroke-width="0.8" fill="none" opacity="0.6"/>
<rect x="295.60" y="470.00" width="212.70" height="130.40" fill="none" stroke="#a2a2a2" stroke-width="1.25"/>
<text x="290.50" y="606.10" font-size="15" fill="#3b3b3b" text-anchor="end">1</text>
<text x="290.50" y="580.02" font-size="15" fill="#3b3b3b" text-anchor="end">2</text>
<text x="290.50" y="553.94" font-size="15" fill="#3b3b3b" text-anchor="end">3</text>
<text x="290.50" y="527.86" font-size="15" fill="#3b3b3b" text-anchor="end">4</text>
<text x="290.50" y="501.78" font-size="15" fill="#3b3b3b" text-anchor="end">5</text>
<text x="290.50" y="475.70" font-size="15" fill="#3b3b3b" text-anchor="end">6</text>
<text x="297.50" y="488.10" font-size="19.8" letter-spacing="0.7" font-weight="bold" fill="#141414">(b4)</text>
<text x="295.80" y="504.60" font-size="15.25" letter-spacing="0.2" font-weight="bold" fill="#141414">3.28±1.87</text>
<text x="367.00" y="485.40" font-size="15.25" letter-spacing="0.2" font-weight="bold" fill="#141414">3.36±2.18</text>
<text x="440.00" y="504.60" font-size="15.25" letter-spacing="0.2" font-weight="bold" fill="#141414">3.23±1.83</text>
<g clip-path="url(#k32)">
<path d="M548.60 470.00V600.40M737.60 470.00V600.40M536.80 567.80H750.00M536.80 535.20H750.00M536.80 502.60H750.00" stroke="#262626" stroke-opacity="0.08" stroke-width="1" fill="none"/>
<polygon points="537.0,509.9 546.4,511.3 563.4,509.9 580.5,508.5 591.8,511.3 604.6,504.8 608.9,498.5 620.3,498.5 634.5,500.0 648.7,501.9 662.9,500.8 677.1,501.4 681.4,517.9 685.6,518.4 697.0,516.1 705.5,517.9 714.1,515.6 721.2,517.0 726.8,520.7 734.0,520.7 739.6,519.0 750.0,519.8 750.0,595.0 736.8,594.4 726.8,595.0 719.7,597.6 705.5,596.1 699.8,594.7 694.2,595.6 682.8,592.2 678.5,590.5 662.9,590.7 643.0,591.0 620.3,592.2 608.9,592.2 604.6,593.3 597.5,592.2 590.4,590.7 577.6,593.3 563.4,592.7 549.2,592.2 537.0,592.2" fill="#cdcdcf"/>
<path d="M548.60 470.00V600.40M737.60 470.00V600.40M536.80 567.80H750.00M536.80 535.20H750.00M536.80 502.60H750.00" stroke="#262626" stroke-opacity="0.035" stroke-width="1" fill="none"/>
<polyline points="537.0,551.3 542.1,550.5 549.2,551.9 563.4,551.0 577.6,550.7 591.8,551.3 604.6,549.3 609.5,545.1 620.3,544.8 634.5,545.6 645.8,546.2 662.9,545.6 677.1,545.6 682.8,555.6 694.2,556.1 705.5,556.4 714.1,555.6 725.4,557.9 736.8,556.7 750.0,557.3" fill="none" stroke="#555555" stroke-width="1.35" stroke-linejoin="round"/>
<line x1="606.20" y1="470.00" x2="606.20" y2="600.40" stroke="#505050" stroke-width="1" stroke-dasharray="2.5 2.3"/>
<line x1="680.00" y1="470.00" x2="680.00" y2="600.40" stroke="#505050" stroke-width="1" stroke-dasharray="2.5 2.3"/>
</g>
<path d="M548.60 470.00v2.2M548.60 600.40v-2.2M737.60 470.00v2.2M737.60 600.40v-2.2M606.20 470.00v2.2M606.20 600.40v-2.2M680.00 470.00v2.2M680.00 600.40v-2.2M536.80 567.80h2.2M750.00 567.80h-2.2M536.80 535.20h2.2M750.00 535.20h-2.2M536.80 502.60h2.2M750.00 502.60h-2.2" stroke="#262626" stroke-width="0.8" fill="none" opacity="0.6"/>
<rect x="536.80" y="470.00" width="213.20" height="130.40" fill="none" stroke="#a2a2a2" stroke-width="1.25"/>
<text x="531.70" y="606.10" font-size="15" fill="#3b3b3b" text-anchor="end">1</text>
<text x="531.70" y="573.50" font-size="15" fill="#3b3b3b" text-anchor="end">2</text>
<text x="531.70" y="540.90" font-size="15" fill="#3b3b3b" text-anchor="end">3</text>
<text x="531.70" y="508.30" font-size="15" fill="#3b3b3b" text-anchor="end">4</text>
<text x="531.70" y="475.70" font-size="15" fill="#3b3b3b" text-anchor="end">5</text>
<text x="538.70" y="488.10" font-size="19.8" letter-spacing="0.7" font-weight="bold" fill="#141414">(c4)</text>
<text x="537.00" y="504.60" font-size="15.25" letter-spacing="0.2" font-weight="bold" fill="#141414">2.51±1.27</text>
<text x="607.90" y="485.40" font-size="15.25" letter-spacing="0.2" font-weight="bold" fill="#141414">2.68±1.40</text>
<text x="681.00" y="504.60" font-size="15.25" letter-spacing="0.2" font-weight="bold" fill="#141414">2.34±1.17</text>
<text transform="translate(20.10 535.20) rotate(-90)" font-size="18.3" font-weight="bold" fill="#3b3b3b" text-anchor="middle">SFRs (ALL)</text>
<text x="66.40" y="621" font-size="14.5" fill="#3b3b3b" text-anchor="middle">t<tspan font-size="11.5" dy="6.6">LE</tspan><tspan dy="-6.6">-12</tspan></text>
<text x="124.00" y="621" font-size="14.5" fill="#3b3b3b" text-anchor="middle">t<tspan font-size="11.5" dy="6.6">LE</tspan></text>
<text x="197.60" y="621" font-size="14.5" fill="#3b3b3b" text-anchor="middle">t<tspan font-size="11.5" dy="6.6">TE</tspan></text>
<text x="254.90" y="621" font-size="14.5" fill="#3b3b3b" text-anchor="middle">t<tspan font-size="11.5" dy="6.6">TE</tspan><tspan dy="-6.6">+12</tspan></text>
<text x="160.50" y="649.6" font-size="18.2" font-weight="bold" fill="#3b3b3b" text-anchor="middle">Time (hour)</text>
<text x="307.60" y="621" font-size="14.5" fill="#3b3b3b" text-anchor="middle">t<tspan font-size="11.5" dy="6.6">LE</tspan><tspan dy="-6.6">-12</tspan></text>
<text x="365.30" y="621" font-size="14.5" fill="#3b3b3b" text-anchor="middle">t<tspan font-size="11.5" dy="6.6">LE</tspan></text>
<text x="439.00" y="621" font-size="14.5" fill="#3b3b3b" text-anchor="middle">t<tspan font-size="11.5" dy="6.6">TE</tspan></text>
<text x="496.60" y="621" font-size="14.5" fill="#3b3b3b" text-anchor="middle">t<tspan font-size="11.5" dy="6.6">TE</tspan><tspan dy="-6.6">+12</tspan></text>
<text x="401.95" y="649.6" font-size="18.2" font-weight="bold" fill="#3b3b3b" text-anchor="middle">Time (hour)</text>
<text x="548.60" y="621" font-size="14.5" fill="#3b3b3b" text-anchor="middle">t<tspan font-size="11.5" dy="6.6">LE</tspan><tspan dy="-6.6">-12</tspan></text>
<text x="606.20" y="621" font-size="14.5" fill="#3b3b3b" text-anchor="middle">t<tspan font-size="11.5" dy="6.6">LE</tspan></text>
<text x="680.00" y="621" font-size="14.5" fill="#3b3b3b" text-anchor="middle">t<tspan font-size="11.5" dy="6.6">TE</tspan></text>
<text x="737.60" y="621" font-size="14.5" fill="#3b3b3b" text-anchor="middle">t<tspan font-size="11.5" dy="6.6">TE</tspan><tspan dy="-6.6">+12</tspan></text>
<text x="643.40" y="649.6" font-size="18.2" font-weight="bold" fill="#3b3b3b" text-anchor="middle">Time (hour)</text>
<text font-weight="bold" fill="#3b3b3b"><tspan x="122.5" y="25" font-size="22">O</tspan><tspan x="139" y="15.5" font-size="16">7+</tspan><tspan x="157.2" y="25" font-size="22">/O</tspan><tspan x="179.5" y="15.5" font-size="16">6+</tspan></text>
<text font-weight="bold" fill="#3b3b3b"><tspan x="365.3" y="15.5" font-size="21">A</tspan><tspan x="380.1" y="25.6" font-size="16.5">He</tspan><tspan x="407.2" y="15.7" font-size="20">[%]</tspan></text>
<text x="603.6" y="24.9" font-size="20.8" font-weight="bold" fill="#3b3b3b">FIP bias</text>
</svg>
</body></html>
